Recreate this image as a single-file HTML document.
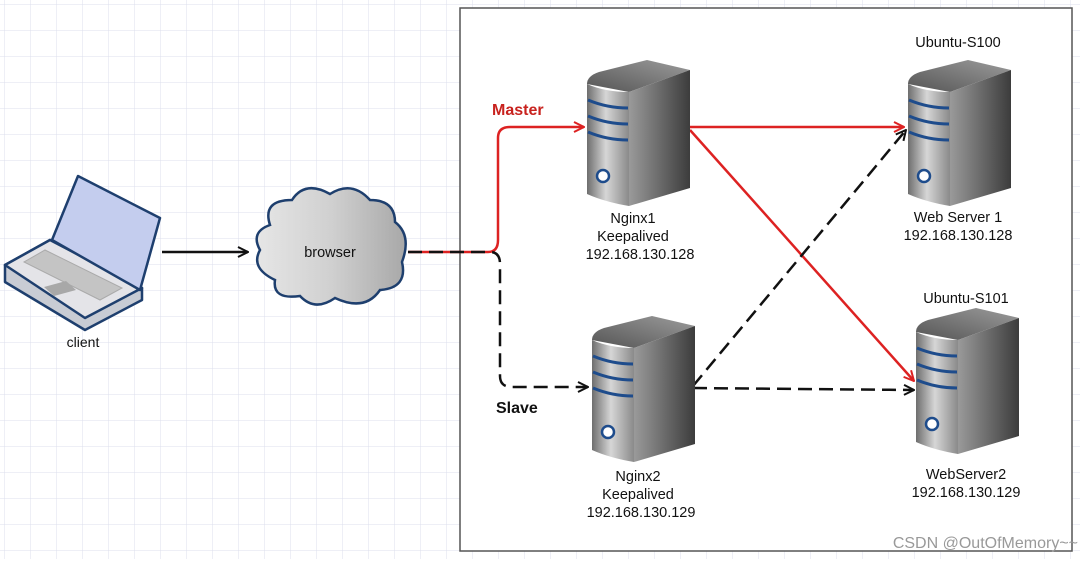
<!DOCTYPE html>
<html><head><meta charset="utf-8"><style>
html,body{margin:0;padding:0;background:#fff}
body{width:1080px;height:559px;overflow:hidden;font-family:"Liberation Sans",sans-serif}
</style></head><body>
<svg width="1080" height="559" viewBox="0 0 1080 559" xmlns="http://www.w3.org/2000/svg" font-family="Liberation Sans, sans-serif">
<defs>
<pattern id="grid" width="26" height="26" patternUnits="userSpaceOnUse" x="4" y="4">
<path d="M26 0H0V26" fill="none" stroke="#dcdfec" stroke-width="1"/>
</pattern>
<linearGradient id="front" x1="0" x2="1"><stop offset="0" stop-color="#6e6e6e"/><stop offset="0.45" stop-color="#d6d6d6"/><stop offset="1" stop-color="#8a8a8a"/></linearGradient>
<linearGradient id="side" x1="0" x2="1"><stop offset="0" stop-color="#9a9a9a"/><stop offset="1" stop-color="#3c3c3c"/></linearGradient>
<linearGradient id="top" x1="0" x2="1" y1="1" y2="0"><stop offset="0" stop-color="#555"/><stop offset="1" stop-color="#9c9c9c"/></linearGradient>
<linearGradient id="cloud" x1="0" x2="1"><stop offset="0" stop-color="#e6e6e6"/><stop offset="0.5" stop-color="#d0d0d0"/><stop offset="1" stop-color="#a8a8a8"/></linearGradient>
<marker id="ar" viewBox="0 0 12 12" refX="11" refY="6" markerWidth="12" markerHeight="12" markerUnits="userSpaceOnUse" orient="auto"><path d="M1 1L11 6L1 11" fill="none" stroke="#d22" stroke-width="2"/></marker>
<marker id="ak" viewBox="0 0 12 12" refX="11" refY="6" markerWidth="12" markerHeight="12" markerUnits="userSpaceOnUse" orient="auto"><path d="M1 1L11 6L1 11" fill="none" stroke="#111" stroke-width="2"/></marker>
<g id="srv">
<path d="M2 24 Q2 16 14 12 L62 0 L105 10 L44 32 Z" fill="url(#top)"/>
<path d="M44 32 L105 10 L105 128 L44 146 Z" fill="url(#side)"/>
<path d="M2 24 Q20 32 44 32 L44 146 Q20 142 2 134 Z" fill="url(#front)"/>
<path d="M3 40 Q22 48 43 48 M3 56 Q22 64 43 64 M3 72 Q22 80 43 80" stroke="#1e4c8c" stroke-width="3" fill="none"/>
<circle cx="18" cy="116" r="6" fill="#fff" stroke="#1e4c8c" stroke-width="2.5"/>
</g>
</defs>
<rect width="1080" height="559" fill="url(#grid)"/>
<rect x="460" y="8" width="612" height="543" fill="#fff" stroke="#555" stroke-width="1.5"/>

<!-- laptop -->
<g stroke="#1e3f6e" stroke-width="2.5" stroke-linejoin="round">
<path d="M5 265 L50 240 L142 288 L142 300 L85 330 L5 282 Z" fill="#c8ccd4"/>
<path d="M5 265 L50 240 L142 288 L85 318 Z" fill="#e4e4e8"/>
<path d="M52 240 L78 176 L160 218 L140 290 Z" fill="#c4cdee"/>
</g>
<path d="M45 250 L122 288 L100 300 L24 262 Z" fill="#c4c4c4" stroke="#aaa" stroke-width="1"/>
<path d="M44 287 L66 281 L76 290 L54 296 Z" fill="#a8a8a8"/>
<text x="83" y="347" font-size="14" text-anchor="middle" fill="#111">client</text>

<!-- cloud -->
<path d="M270 225 Q262 200 292 200 Q305 180 330 194 Q352 180 370 200 Q395 200 395 222 Q412 235 402 262 Q408 288 380 290 Q365 312 335 298 Q315 312 300 296 Q272 300 275 280 Q250 268 260 250 Q250 232 270 225 Z" fill="url(#cloud)" stroke="#1e3f6e" stroke-width="2.5"/>
<text x="330" y="257" font-size="14.5" text-anchor="middle" fill="#111">browser</text>

<!-- connectors -->
<line x1="162" y1="252" x2="248" y2="252" stroke="#111" stroke-width="2.5" marker-end="url(#ak)"/>
<path d="M408 252 L488 252 Q498 252 498 240 L498 138 Q498 127 510 127 L584 127" fill="none" stroke="#d22" stroke-width="2.5" marker-end="url(#ar)"/>
<path d="M408 252 L490 252 Q500 252 500 264 L500 376 Q500 387 512 387 L588 387" fill="none" stroke="#111" stroke-width="2.5" stroke-dasharray="14,7" marker-end="url(#ak)"/>
<line x1="690" y1="127" x2="904" y2="127" stroke="#d22" stroke-width="2.5" marker-end="url(#ar)"/>
<line x1="690" y1="130" x2="914" y2="381" stroke="#d22" stroke-width="2.5" marker-end="url(#ar)"/>
<line x1="693" y1="386" x2="906" y2="130" stroke="#111" stroke-width="2.5" stroke-dasharray="14,7" marker-end="url(#ak)"/>
<line x1="693" y1="388" x2="914" y2="390" stroke="#111" stroke-width="2.5" stroke-dasharray="14,7" marker-end="url(#ak)"/>

<!-- servers -->
<use href="#srv" x="585" y="60"/>
<use href="#srv" x="590" y="316"/>
<use href="#srv" x="906" y="60"/>
<use href="#srv" x="914" y="308"/>

<text x="492" y="115" font-size="16" font-weight="bold" fill="#c8221e">Master</text>
<text x="496" y="413" font-size="16" font-weight="bold" fill="#111">Slave</text>

<g font-size="14.5" fill="#111" text-anchor="middle">
<text x="633" y="223">Nginx1</text>
<text x="633" y="241">Keepalived</text>
<text x="640" y="259">192.168.130.128</text>
<text x="638" y="481">Nginx2</text>
<text x="638" y="499">Keepalived</text>
<text x="641" y="517">192.168.130.129</text>
<text x="958" y="47">Ubuntu-S100</text>
<text x="958" y="222">Web Server 1</text>
<text x="958" y="240">192.168.130.128</text>
<text x="966" y="303">Ubuntu-S101</text>
<text x="966" y="479">WebServer2</text>
<text x="966" y="497">192.168.130.129</text>
</g>
<text x="1078" y="548" font-size="16" fill="#999" text-anchor="end">CSDN @OutOfMemory~~</text>
</svg>
</body></html>
